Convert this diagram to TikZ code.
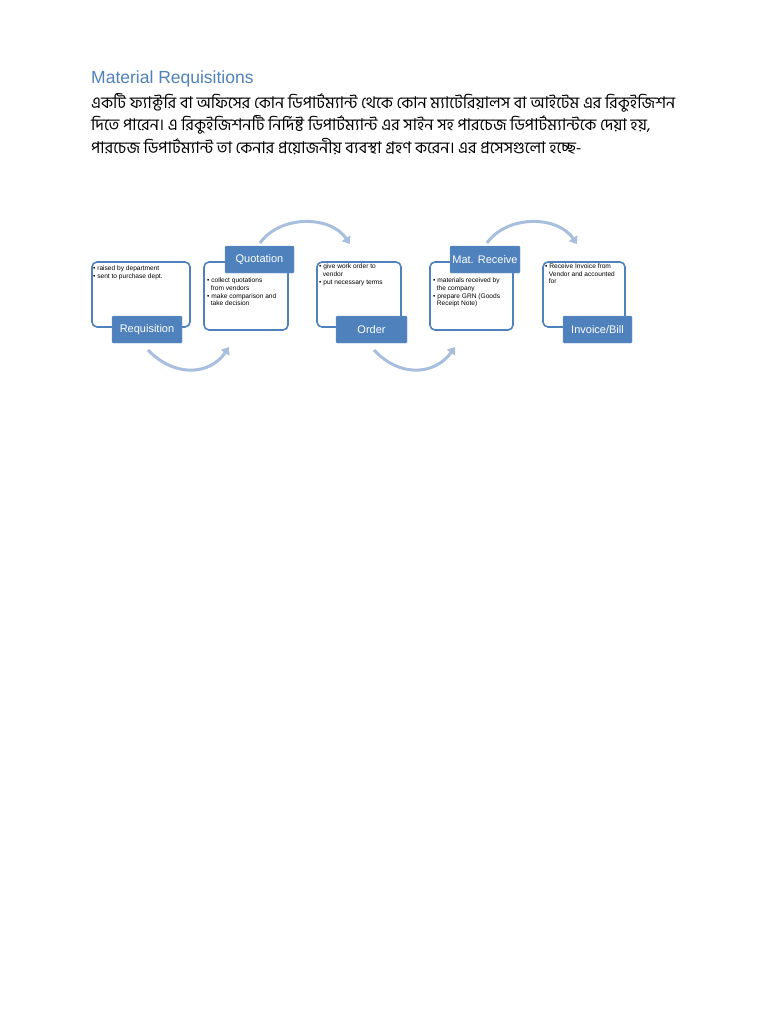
\documentclass[tikz,border=0pt]{standalone}
\usetikzlibrary{arrows.meta}
\usepackage{fontspec}
\setmainfont{Liberation Sans}
\newfontfamily\bn[Script=Bengali]{Hind Siliguri}
\definecolor{bl}{RGB}{79,129,189}
\definecolor{arc}{RGB}{167,190,222}
\begin{document}
\begin{tikzpicture}[x=1pt,y=-1pt,
 outl/.style={draw=bl,line width=1.6pt,rounded corners=5pt,fill=white},
 lab/.style={fill=bl,draw=bl!80!white,text=white,font=\fontsize{11}{12}\selectfont,rounded corners=1pt,inner sep=0pt},
 txt/.style={font=\fontsize{6.6}{7.2}\selectfont,anchor=north west,align=left,inner sep=0pt},
 arr/.style={draw=arc,line width=3pt,-{Triangle[length=7pt,width=10pt]}}]
\useasboundingbox (0,0) rectangle (768,1024);
\node[anchor=west,text=bl,font=\fontsize{17.5}{19}\selectfont,inner sep=0pt] (title) at (91,79) {Material Requisitions};
\node[anchor=north west,inner sep=0pt,font=\bn\fontsize{16.2}{22.5}\selectfont,align=left] (para) at (91,93) {একটি ফ্যাক্টরি বা অফিসের কোন ডিপার্টম্যান্ট থেকে কোন ম্যাটেরিয়ালস বা আইটেম এর রিকুইজিশন\\দিতে পারেন। এ রিকুইজিশনটি নির্দিষ্ট ডিপার্টম্যান্ট এর সাইন সহ পারচেজ ডিপার্টম্যান্টকে দেয়া হয়,\\পারচেজ ডিপার্টম্যান্ট তা কেনার প্রয়োজনীয় ব্যবস্থা গ্রহণ করেন। এর প্রসেসগুলো হচ্ছে-};
% arcs
\draw[arr] (148,350) .. controls (175,378) and (210,375) .. (229,347);
\draw[arr] (260,243) .. controls (280,215) and (330,215) .. (350,244);
\draw[arr] (374,350) .. controls (400,378) and (435,375) .. (455,347);
\draw[arr] (487,243) .. controls (507,215) and (557,215) .. (577,244);
% boxes
\draw[outl] (92,262) rectangle (190,327);
\draw[outl] (204,262) rectangle (288,330);
\draw[outl] (317,262) rectangle (401,327);
\draw[outl] (430,262) rectangle (513,330);
\draw[outl] (543,262) rectangle (625,327);
\node[lab,minimum width=70pt,minimum height=27pt] (req) at (147,329.5) {Requisition};
\node[lab,minimum width=69pt,minimum height=27pt] (quo) at (259.5,259.5) {Quotation};
\node[lab,minimum width=71pt,minimum height=27pt] (ord) at (371.5,329.5) {Order};
\node[lab,minimum width=70pt,minimum height=27pt] (mat) at (485,259.5) {Mat. Receive};
\node[lab,minimum width=69pt,minimum height=27pt] (inv) at (597.5,329.5) {Invoice/Bill};
\node[txt] (t1) at (93,266) {• raised by department\\• sent to purchase dept.};
\node[txt] (t2) at (207,278) {• collect quotations\\\ \ from vendors\\[1pt]• make comparison and\\\ \ take decision};
\node[txt] (t3) at (319,264) {• give work order to\\\ \ vendor\\[1pt]• put necessary terms};
\node[txt] (t4) at (433,278) {• materials received by\\\ \ the company\\[1pt]• prepare GRN (Goods\\\ \ Receipt Note)};
\node[txt] (t5) at (545,264) {• Receive Invoice from\\\ \ Vendor and accounted\\\ \ for};
\end{tikzpicture}
\end{document}
